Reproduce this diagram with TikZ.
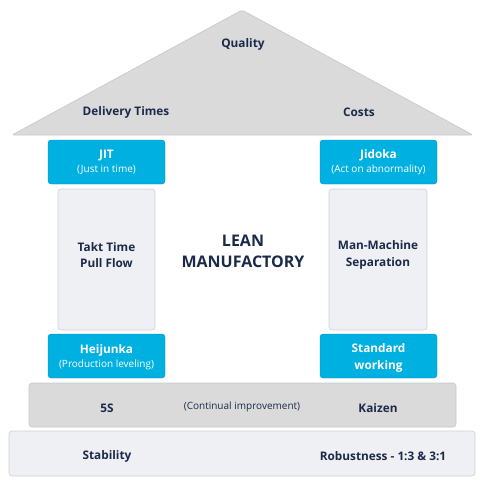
\documentclass[tikz,border=0pt]{standalone}
\usepackage{fontspec}
\setmainfont{Open Sans}
\definecolor{navy}{HTML}{1C2A4A}
\definecolor{leanblue}{HTML}{00B0E0}
\definecolor{roofgray}{HTML}{DADADA}
\definecolor{roofline}{HTML}{C8C8C8}
\definecolor{pillarfill}{HTML}{EEF0F3}
\definecolor{pillarline}{HTML}{CDD1D6}
\newcommand\subtxt[1]{{\fontsize{10}{11}\selectfont\mdseries #1}}
\begin{document}
\begin{tikzpicture}[x=1pt,y=-1pt,
  lbl/.style={font=\fontsize{11.8}{16.5}\selectfont\bfseries, text=navy, align=center},
  sub/.style={font=\fontsize{10}{11}\selectfont},
  bluebox/.style={fill=leanblue, draw=leanblue!80!black, line width=0.3pt, rounded corners=3pt},
  pillar/.style={fill=pillarfill, draw=pillarline, line width=0.6pt, rounded corners=3pt},
  band/.style={fill=roofgray, draw=roofline, line width=0.6pt, rounded corners=3pt},
  base/.style={fill=pillarfill, draw=pillarline, line width=0.6pt, rounded corners=3pt}]
\useasboundingbox (0,0) rectangle (485,485);
% roof
\draw[fill=roofgray, draw=roofline, line width=0.6pt, rounded corners=2pt] (12,135) -- (242,10) -- (473,135) -- cycle;
\node[lbl] (quality) at (243,44) {Quality};
\node[lbl] (delivery) at (126,112) {Delivery Times};
\node[lbl] (costs) at (359,112) {Costs};
% top blue boxes
\draw[bluebox] (48,140) rectangle (165,184);
\node[lbl, text=white, font=\fontsize{11.8}{14}\selectfont\bfseries] (jit) at (106.5,162.5) {JIT\\\subtxt{(Just in time)}};
\draw[bluebox] (320,140) rectangle (437,184);
\node[lbl, text=white, font=\fontsize{11.8}{14}\selectfont\bfseries] (jidoka) at (378.5,162.5) {Jidoka\\\subtxt{(Act on abnormality)}};
% pillars
\draw[pillar] (58,189) rectangle (155,330);
\node[lbl] (takt) at (106.5,255) {Takt Time\\Pull Flow};
\draw[pillar] (329,189) rectangle (427,330);
\node[lbl] (mms) at (378,255) {Man-Machine\\Separation};
% center
\node[lbl, font=\fontsize{16}{21}\selectfont\bfseries] (lean) at (243,251) {LEAN\\MANUFACTORY};
% bottom blue boxes
\draw[bluebox] (48,334) rectangle (165,378);
\node[lbl, text=white, font=\fontsize{11.8}{14}\selectfont\bfseries] (heij) at (106.5,357) {Heijunka\\\subtxt{(Production leveling)}};
\draw[bluebox] (320,334) rectangle (437,378);
\node[lbl, text=white] (std) at (378.5,358) {Standard\\working};
% kaizen band
\draw[band] (29,383) rectangle (456,427);
\node[lbl] (fives) at (107,408) {5S};
\node[sub, text=navy] (cont) at (242,407) {(Continual improvement)};
\node[lbl] (kaizen) at (378,408) {Kaizen};
% base
\draw[base] (9,431) rectangle (475,476);
\node[lbl] (stab) at (107,456) {Stability};
\node[lbl] (rob) at (383,456) {Robustness - 1:3 \& 3:1};
\end{tikzpicture}
\end{document}
